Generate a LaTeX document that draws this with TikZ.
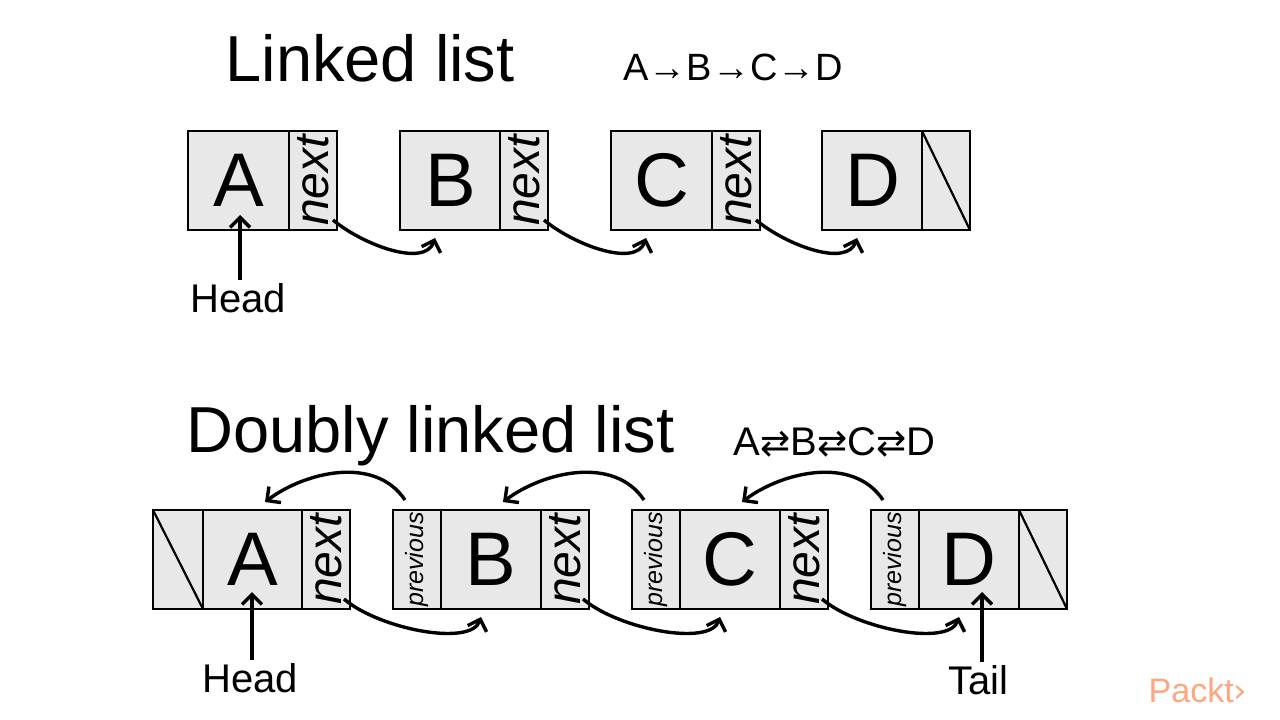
\documentclass[tikz,border=0pt]{standalone}
\usepackage{fontspec}
\setmainfont{Liberation Sans}
\newfontfamily\dv{DejaVu Sans}
\usetikzlibrary{arrows.meta}
\begin{document}
\begin{tikzpicture}[x=1pt,y=-1pt,
  cell/.style={draw=black,line width=2.2pt,fill=gray!18,minimum height=99pt,inner sep=0pt,outer sep=0pt},
  big/.style={font=\fontsize{76}{76}\selectfont},
  nxt/.style={rotate=90,font=\fontsize{48}{48}\selectfont\itshape},
  prv/.style={rotate=90,font=\fontsize{25}{25}\selectfont\itshape},
  lbl/.style={font=\fontsize{40}{40}\selectfont},
  link/.style={line width=3.4pt,-{Straight Barb[length=10pt,width=20pt,line width=3.4pt]}}]
\useasboundingbox[fill=white] (0,0) rectangle (1280,720);
% titles
\node[font=\fontsize{65}{65}\selectfont,anchor=west] (t1) at (222,58) {Linked list};
\node[font=\fontsize{38}{38}\selectfont,anchor=west] (s1) at (620,67) {A→B→C→D};
\node[font=\fontsize{65}{65}\selectfont,anchor=west] (t2) at (183,436) {Doubly linked list};
\node[lbl,anchor=west] (s2) at (730,442) {A{\dv\fontsize{36}{36}\selectfont⇄}B{\dv\fontsize{36}{36}\selectfont⇄}C{\dv\fontsize{36}{36}\selectfont⇄}D};
% top list
\foreach \n/\x/\l in {a/188/A,b/400/B,c/611/C,d/822/D}{
  \node[cell,minimum width=101pt,anchor=north west,big] (\n) at (\x,131) {\l};
}
\foreach \n/\x in {a/289,b/500,c/712}{
  \node[cell,minimum width=48pt,anchor=north west] (\n n) at (\x,131) {};
  \node[nxt] at (\n n.center) {next};
}
\node[cell,minimum width=48pt,anchor=north west] (dn) at (922,131) {};
\draw[line width=2.2pt] (dn.north west) -- (dn.south east);
\foreach \s/\t in {an/b,bn/c,cn/d}{
  \draw[link] ([xshift=-4pt,yshift=10pt]\s.south east) .. controls +(30,25) and +(-10,30) .. ([xshift=35pt,yshift=-8pt]\t.south west);
}
\node[lbl] (h1) at (238,298) {Head};
\coordinate (h1s) at (240,280);
\draw[link] (h1s) -- (240,215);
% bottom list
\node[cell,minimum width=50pt,anchor=north west] (ln) at (153,510) {};
\draw[line width=2.2pt] (ln.north west) -- (ln.south east);
\foreach \n/\x/\l in {A/203/A,B/441/B,C/680/C,D/919/D}{
  \node[cell,minimum width=100pt,anchor=north west,big] (\n) at (\x,510) {\l};
}
\foreach \n/\x in {A/302,B/541,C/780}{
  \node[cell,minimum width=48pt,anchor=north west] (\n n) at (\x,510) {};
  \node[nxt] at (\n n.center) {next};
}
\foreach \n/\x in {B/393,C/632,D/871}{
  \node[cell,minimum width=48pt,anchor=north west] (\n p) at (\x,510) {};
  \node[prv] at (\n p.center) {previous};
}
\node[cell,minimum width=48pt,anchor=north west] (rn) at (1019,510) {};
\draw[line width=2.2pt] (rn.north west) -- (rn.south east);
\foreach \s/\t in {An/B,Bn/C,Cn/D}{
  \draw[link] ([xshift=-6pt,yshift=10pt]\s.south east) .. controls +(35,30) and +(-10,30) .. ([xshift=40pt,yshift=-8pt]\t.south west);
}
\foreach \s/\t in {Bp/A,Cp/B,Dp/C}{
  \draw[link] ([xshift=12pt,yshift=10pt]\s.north west) .. controls +(-30,-45) and +(40,-30) .. ([xshift=62pt,yshift=8pt]\t.north west);
}
\node[lbl] (h2) at (250,678) {Head};
\coordinate (h2s) at (252,660);
\draw[link] (h2s) -- (252,592);
\node[lbl] (tl) at (978,680) {Tail};
\coordinate (tls) at (982,662);
\draw[link] (tls) -- (982,592);
\node[font=\fontsize{34}{34}\selectfont,text=orange!60!red!50] (pk) at (1198,690) {Packt\dv›};
\end{tikzpicture}
\end{document}
